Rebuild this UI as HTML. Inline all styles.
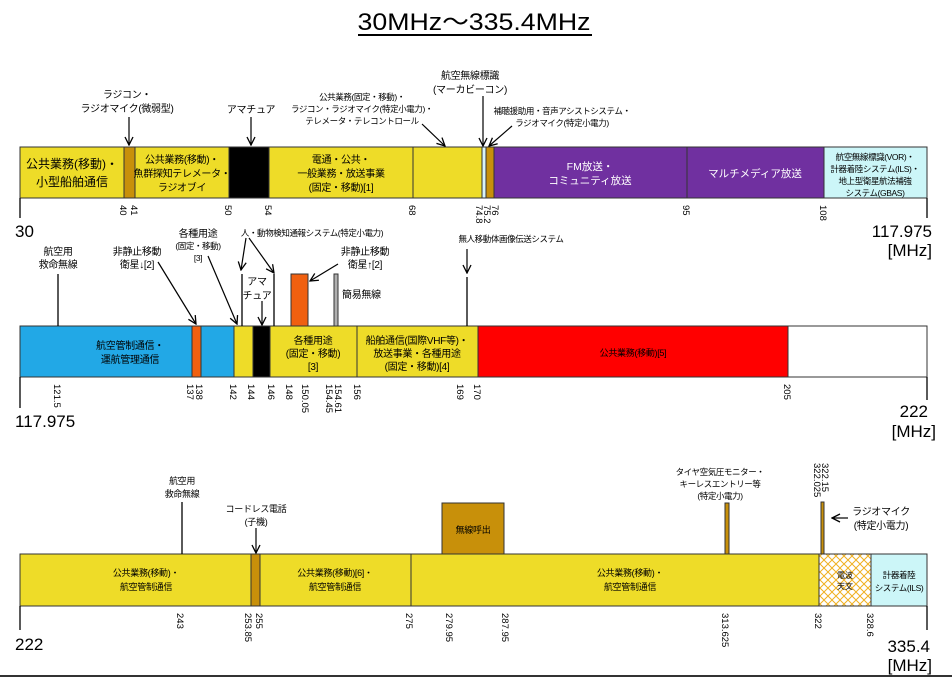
<!DOCTYPE html>
<html><head><meta charset="utf-8"><style>
html,body{margin:0;padding:0;background:#fff;}
svg{display:block;font-family:"Liberation Sans","Noto Sans CJK JP",sans-serif;}
</style></head><body>
<svg width="952" height="677" viewBox="0 0 952 677" xmlns="http://www.w3.org/2000/svg">
<defs>
<marker id="ah" markerWidth="10" markerHeight="10" refX="9" refY="5" orient="auto" markerUnits="userSpaceOnUse">
<path d="M1,1 L9,5 L1,9" fill="none" stroke="#000" stroke-width="1.3"/>
</marker>
<pattern id="xh" width="8" height="8" patternUnits="userSpaceOnUse">
<rect width="8" height="8" fill="#fff"/>
<path d="M0,0 L8,8 M8,0 L0,8" stroke="#f0b020" stroke-width="1"/>
</pattern>
</defs>
<style>
.t{font-size:10px;fill:#000;letter-spacing:-0.3px;}
.s{font-size:9px;fill:#000;letter-spacing:-0.3px;}
.xs{font-size:8.5px;fill:#000;letter-spacing:-0.4px;}
.b{font-size:12px;fill:#000;}
.w{font-size:10.5px;fill:#fff;}
.n{font-size:9.5px;fill:#000;}
.big{font-size:17px;fill:#000;}
line,.ln{stroke:#000;stroke-width:1.3;}
.ar{stroke:#000;stroke-width:1.2;marker-end:url(#ah);}
rect.bx{stroke:#333;stroke-width:1;}
</style>

<text x="474" y="30" font-size="24" text-anchor="middle" textLength="233" lengthAdjust="spacingAndGlyphs">30MHz～335.4MHz</text>
<rect x="358" y="34" width="234" height="2" fill="#000"/>

<!-- ROW 1 -->
<g>
<rect class="bx" x="20" y="147" width="104" height="51" fill="#eedc28"/>
<rect class="bx" x="124" y="147" width="11" height="51" fill="#c8900a"/>
<rect class="bx" x="135" y="147" width="94" height="51" fill="#eedc28"/>
<rect class="bx" x="229" y="147" width="40" height="51" fill="#000"/>
<rect class="bx" x="269" y="147" width="144" height="51" fill="#eedc28"/>
<rect class="bx" x="413" y="147" width="69" height="51" fill="#eedc28"/>
<rect class="bx" x="482" y="147" width="4" height="51" fill="#d8f4f8"/>
<rect class="bx" x="486" y="147" width="8" height="51" fill="#c8900a"/>
<rect class="bx" x="494" y="147" width="193" height="51" fill="#7030a0"/>
<rect class="bx" x="687" y="147" width="137" height="51" fill="#7030a0"/>
<rect class="bx" x="824" y="147" width="103" height="51" fill="#ccf6f8"/>
<line x1="20" y1="198" x2="20" y2="218"/>
<line x1="927" y1="198" x2="927" y2="218"/>

<text class="b" x="72" y="168" text-anchor="middle">公共業務(移動)・</text>
<text class="b" x="72" y="186" text-anchor="middle">小型船舶通信</text>
<text class="t" x="182" y="163" text-anchor="middle">公共業務(移動)・</text>
<text class="t" x="182" y="177" text-anchor="middle">魚群探知テレメータ・</text>
<text class="t" x="182" y="191" text-anchor="middle">ラジオブイ</text>
<text class="t" x="341" y="163" text-anchor="middle">電通・公共・</text>
<text class="t" x="341" y="177" text-anchor="middle">一般業務・放送事業</text>
<text class="t" x="341" y="191" text-anchor="middle">(固定・移動)[1]</text>
<text class="w" x="590" y="170" text-anchor="middle">FM放送・</text>
<text class="w" x="590" y="184" text-anchor="middle">コミュニティ放送</text>
<text class="w" x="755" y="177" text-anchor="middle">マルチメディア放送</text>
<text class="xs" x="875" y="160" text-anchor="middle">航空無線標識(VOR)・</text>
<text class="xs" x="875" y="172" text-anchor="middle">計器着陸システム(ILS)・</text>
<text class="xs" x="875" y="184" text-anchor="middle">地上型衛星航法補強</text>
<text class="xs" x="875" y="196" text-anchor="middle">システム(GBAS)</text>

<text class="t" x="127" y="98" text-anchor="middle">ラジコン・</text>
<text class="t" x="127" y="112" text-anchor="middle">ラジオマイク(微弱型)</text>
<line class="ar" x1="129" y1="117" x2="129" y2="145"/>
<text class="t" x="251" y="113" text-anchor="middle">アマチュア</text>
<line class="ar" x1="251" y1="117" x2="251" y2="145"/>
<text class="xs" x="362" y="100" text-anchor="middle">公共業務(固定・移動)・</text>
<text class="xs" x="362" y="112" text-anchor="middle">ラジコン・ラジオマイク(特定小電力)・</text>
<text class="xs" x="362" y="124" text-anchor="middle">テレメータ・テレコントロール</text>
<line class="ar" x1="422" y1="124" x2="445" y2="146"/>
<text class="t" x="470" y="79" text-anchor="middle">航空無線標識</text>
<text class="t" x="470" y="93" text-anchor="middle">(マーカビーコン)</text>
<line class="ar" x1="483" y1="96" x2="483" y2="146"/>
<text class="xs" x="562" y="114" text-anchor="middle">補聴援助用・音声アシストシステム・</text>
<text class="xs" x="562" y="126" text-anchor="middle">ラジオマイク(特定小電力)</text>
<line class="ar" x1="512" y1="126" x2="489" y2="146"/>

<g class="n">
<text transform="translate(120,205) rotate(90)">40</text>
<text transform="translate(131,205) rotate(90)">41</text>
<text transform="translate(225,205) rotate(90)">50</text>
<text transform="translate(265,205) rotate(90)">54</text>
<text transform="translate(409,205) rotate(90)">68</text>
<text transform="translate(476,205) rotate(90)">74.8</text>
<text transform="translate(484,205) rotate(90)">75.2</text>
<text transform="translate(492,205) rotate(90)">76</text>
<text transform="translate(683,205) rotate(90)">95</text>
<text transform="translate(820,205) rotate(90)">108</text>
</g>
<text class="big" x="15" y="237">30</text>
<text class="big" x="932" y="237" text-anchor="end">117.975</text>
<text class="big" x="932" y="256" text-anchor="end">[MHz]</text>
</g>

<!-- ROW 2 -->
<g>
<rect class="bx" x="20" y="326" width="172" height="51" fill="#22a8e6"/>
<rect class="bx" x="192" y="326" width="9" height="51" fill="#f06010"/>
<rect class="bx" x="201" y="326" width="33" height="51" fill="#22a8e6"/>
<rect class="bx" x="234" y="326" width="19" height="51" fill="#eedc28"/>
<rect class="bx" x="253" y="326" width="17" height="51" fill="#000"/>
<rect class="bx" x="270" y="326" width="87" height="51" fill="#eedc28"/>
<rect class="bx" x="357" y="326" width="121" height="51" fill="#eedc28"/>
<rect class="bx" x="478" y="326" width="310" height="51" fill="#ff0000"/>
<rect class="bx" x="788" y="326" width="139" height="51" fill="#fff"/>
<line x1="20" y1="377" x2="20" y2="408"/>
<line x1="927" y1="377" x2="927" y2="400"/>

<text class="t" x="130" y="349" text-anchor="middle">航空管制通信・</text>
<text class="t" x="130" y="363" text-anchor="middle">運航管理通信</text>
<text class="t" x="313" y="344" text-anchor="middle">各種用途</text>
<text class="t" x="313" y="357" text-anchor="middle">(固定・移動)</text>
<text class="t" x="313" y="370" text-anchor="middle">[3]</text>
<text class="t" x="417" y="344" text-anchor="middle">船舶通信(国際VHF等)・</text>
<text class="t" x="417" y="357" text-anchor="middle">放送事業・各種用途</text>
<text class="t" x="417" y="370" text-anchor="middle">(固定・移動)[4]</text>
<text class="s" x="633" y="356" text-anchor="middle">公共業務(移動)[5]</text>

<text class="t" x="58" y="255" text-anchor="middle">航空用</text>
<text class="t" x="58" y="268" text-anchor="middle">救命無線</text>
<line x1="58" y1="274" x2="58" y2="326"/>
<text class="t" x="137" y="255" text-anchor="middle">非静止移動</text>
<text class="t" x="137" y="268" text-anchor="middle">衛星↓[2]</text>
<line class="ar" x1="158" y1="262" x2="196" y2="324"/>
<text class="t" x="198" y="237" text-anchor="middle">各種用途</text>
<text class="xs" x="198" y="249" text-anchor="middle">(固定・移動)</text>
<text class="xs" x="198" y="261" text-anchor="middle">[3]</text>
<line class="ar" x1="208" y1="256" x2="237" y2="324"/>
<text class="xs" x="312" y="236" text-anchor="middle">人・動物検知通報システム(特定小電力)</text>
<line class="ar" x1="246" y1="238" x2="241" y2="270"/>
<line class="ar" x1="249" y1="238" x2="274" y2="273"/>
<line x1="242" y1="274" x2="242" y2="326"/>
<line x1="274" y1="274" x2="274" y2="326"/>
<text class="t" x="257" y="285" text-anchor="middle">アマ</text>
<text class="t" x="257" y="299" text-anchor="middle">チュア</text>
<line class="ar" x1="262" y1="301" x2="262" y2="325"/>
<rect class="bx" x="291" y="274" width="17" height="52" fill="#f06010"/>
<text class="t" x="365" y="255" text-anchor="middle">非静止移動</text>
<text class="t" x="365" y="268" text-anchor="middle">衛星↑[2]</text>
<line class="ar" x1="338" y1="264" x2="310" y2="281"/>
<rect class="bx" x="334" y="274" width="4" height="52" fill="#b0b0b0"/>
<text class="t" x="342" y="298">簡易無線</text>
<text class="xs" x="511" y="242" text-anchor="middle">無人移動体画像伝送システム</text>
<line class="ar" x1="467" y1="249" x2="467" y2="273"/>
<line x1="467" y1="277" x2="467" y2="326"/>

<g class="n">
<text transform="translate(54,384) rotate(90)">121.5</text>
<text transform="translate(187,384) rotate(90)">137</text>
<text transform="translate(196,384) rotate(90)">138</text>
<text transform="translate(230,384) rotate(90)">142</text>
<text transform="translate(248,384) rotate(90)">144</text>
<text transform="translate(268,384) rotate(90)">146</text>
<text transform="translate(286,384) rotate(90)">148</text>
<text transform="translate(302,384) rotate(90)">150.05</text>
<text transform="translate(326,384) rotate(90)">154.45</text>
<text transform="translate(335,384) rotate(90)">154.61</text>
<text transform="translate(354,384) rotate(90)">156</text>
<text transform="translate(457,384) rotate(90)">169</text>
<text transform="translate(474,384) rotate(90)">170</text>
<text transform="translate(784,384) rotate(90)">205</text>
</g>
<text class="big" x="15" y="427">117.975</text>
<text class="big" x="928" y="417" text-anchor="end">222</text>
<text class="big" x="936" y="437" text-anchor="end">[MHz]</text>
</g>

<!-- ROW 3 -->
<g>
<rect class="bx" x="20" y="554" width="231" height="52" fill="#eedc28"/>
<rect class="bx" x="251" y="554" width="9" height="52" fill="#c8900a"/>
<rect class="bx" x="260" y="554" width="151" height="52" fill="#eedc28"/>
<rect class="bx" x="411" y="554" width="408" height="52" fill="#eedc28"/>
<rect class="bx" x="819" y="554" width="52" height="52" fill="url(#xh)"/>
<rect class="bx" x="871" y="554" width="56" height="52" fill="#ccf6f8"/>
<line x1="20" y1="606" x2="20" y2="630"/>
<line x1="927" y1="606" x2="927" y2="630"/>

<text class="s" x="146" y="576" text-anchor="middle">公共業務(移動)・</text>
<text class="s" x="146" y="590" text-anchor="middle">航空管制通信</text>
<text class="s" x="335" y="576" text-anchor="middle">公共業務(移動)[6]・</text>
<text class="s" x="335" y="590" text-anchor="middle">航空管制通信</text>
<text class="s" x="630" y="576" text-anchor="middle">公共業務(移動)・</text>
<text class="s" x="630" y="590" text-anchor="middle">航空管制通信</text>
<text x="845" y="578" font-size="8" text-anchor="middle">電波</text>
<text x="845" y="589" font-size="8" text-anchor="middle">天文</text>
<text class="xs" x="899" y="578" text-anchor="middle">計器着陸</text>
<text class="xs" x="899" y="591" text-anchor="middle">システム(ILS)</text>

<text class="s" x="182" y="484" text-anchor="middle">航空用</text>
<text class="s" x="182" y="497" text-anchor="middle">救命無線</text>
<line x1="182" y1="502" x2="182" y2="554"/>
<text class="s" x="256" y="512" text-anchor="middle">コードレス電話</text>
<text class="s" x="256" y="525" text-anchor="middle">(子機)</text>
<line class="ar" x1="256" y1="528" x2="256" y2="553"/>
<rect class="bx" x="442" y="503" width="62" height="51" fill="#c8900a"/>
<text class="s" x="473" y="533" text-anchor="middle">無線呼出</text>
<text class="xs" x="720" y="475" text-anchor="middle">タイヤ空気圧モニター・</text>
<text class="xs" x="720" y="487" text-anchor="middle">キーレスエントリー等</text>
<text class="xs" x="720" y="499" text-anchor="middle">(特定小電力)</text>
<rect class="bx" x="725" y="503" width="4" height="51" fill="#c8900a"/>
<rect class="bx" x="821" y="502" width="3" height="52" fill="#c8900a"/>
<text class="t" x="881" y="515" text-anchor="middle">ラジオマイク</text>
<text class="t" x="881" y="529" text-anchor="middle">(特定小電力)</text>
<line class="ar" x1="848" y1="518" x2="832" y2="518"/>

<g class="n">
<text transform="translate(814,463) rotate(90)">322.025</text>
<text transform="translate(822,463) rotate(90)">322.15</text>
<text transform="translate(177,613) rotate(90)">243</text>
<text transform="translate(245,613) rotate(90)">253.85</text>
<text transform="translate(256,613) rotate(90)">255</text>
<text transform="translate(406,613) rotate(90)">275</text>
<text transform="translate(446,613) rotate(90)">279.95</text>
<text transform="translate(502,613) rotate(90)">287.95</text>
<text transform="translate(722,613) rotate(90)">313.625</text>
<text transform="translate(815,613) rotate(90)">322</text>
<text transform="translate(867,613) rotate(90)">328.6</text>
</g>
<text class="big" x="15" y="650">222</text>
<text class="big" x="930" y="652" text-anchor="end">335.4</text>
<text class="big" x="932" y="671" text-anchor="end">[MHz]</text>
</g>
<rect x="0" y="675" width="952" height="2" fill="#333"/>
</svg>
</body></html>
